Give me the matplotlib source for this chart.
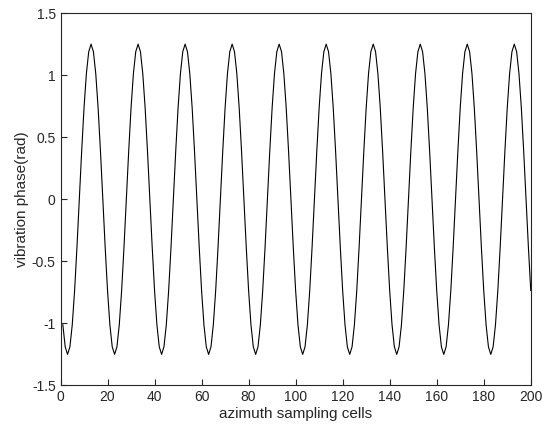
import matplotlib
matplotlib.use("Agg")
import matplotlib.pyplot as plt

cycle = [-1.011, -1.189, -1.25, -1.189, -1.011, -0.735, -0.386, 0.0, 0.386, 0.735,
         1.011, 1.189, 1.25, 1.189, 1.011, 0.735, 0.386, 0.0, -0.386, -0.735]
phase = cycle * 10
cells = list(range(1, 201))
xticks = list(range(0, 201, 20))
yticks = [-1.5, -1, -0.5, 0, 0.5, 1, 1.5]

plt.rcParams['font.family'] = ['Liberation Sans', 'DejaVu Sans']
txt = '#262626'
fig = plt.figure(figsize=(5.5, 4.37), dpi=100)
ax = fig.add_axes([0.11, 0.118, 0.855, 0.852])
ax.plot(cells, phase, color='black', linewidth=0.8)
ax.set_xlim(0, 200)
ax.set_ylim(-1.5, 1.5)
ax.set_xticks(xticks)
ax.set_yticks(yticks)
ax.set_yticklabels(['-1.5', '-1', '-0.5', '0', '0.5', '1', '1.5'])
ax.tick_params(direction='in', labelsize=10, top=False, right=False, length=4,
               labelcolor=txt, color=txt)
ax.set_xlabel('azimuth sampling cells', fontsize=11, labelpad=2, color=txt)
ax.set_ylabel('vibration phase(rad)', fontsize=11, labelpad=2, color=txt)
for s in ax.spines.values():
    s.set_linewidth(0.8)
    s.set_color(txt)
fig.savefig('out.png')
